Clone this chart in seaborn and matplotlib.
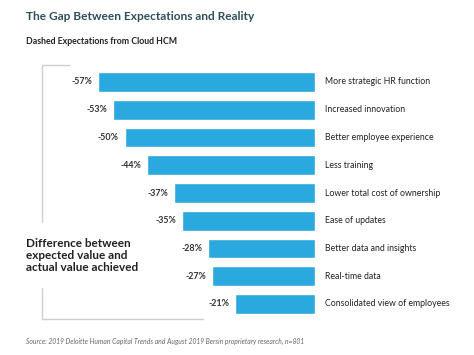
import matplotlib
matplotlib.use('Agg')
import matplotlib.pyplot as plt
from matplotlib.lines import Line2D
import seaborn as sns
import pandas as pd

# Dados
categorias = ['More strategic HR function', 'Increased innovation', 'Better employee experience',
              'Less training', 'Lower total cost of ownership', 'Ease of updates',
              'Better data and insights', 'Real-time data', 'Consolidated view of employees']
valores = [-57, -53, -50, -44, -37, -35, -28, -27, -21]

df = pd.DataFrame({'categoria': categorias, 'valor': valores})

sns.set_style('white')
plt.rcParams['font.family'] = ['Lato', 'DejaVu Sans']

W, H = 474, 355
fig = plt.figure(figsize=(W / 100, H / 100), dpi=100)
ax = fig.add_axes([0, 0, 1, 1])

azul = '#29a9dd'
sns.barplot(data=df, x='valor', y='categoria', orient='h', color=azul,
            width=0.72, saturation=1, ax=ax)

# escala em pixels: 0% em x=315, -57% em x=98
escala = (315 - 98) / 57
ax.set_xlim(-57 - 98 / escala, -57 + (W - 98) / escala)
passo = 27.75
ax.set_ylim((H - 82) / passo, -82 / passo)
ax.axis('off')

for i, v in enumerate(valores):
    ax.text(v - 6 / escala, i, f'-{abs(v)}%', ha='right', va='center',
            fontsize=6.4, fontweight='bold', color='#333333')
    ax.text(10 / escala, i, categorias[i], ha='left', va='center',
            fontsize=6.3, color='#222222')


def px(x, y):
    return x / W, 1 - y / H


# Colchete cinza
cinza = '#cfcfcf'
for (x0, y0), (x1, y1) in [((42, 65), (69, 65)), ((42, 65), (42, 222)),
                           ((42, 288), (42, 319)), ((42, 319), (203, 319))]:
    a, b = px(x0, y0), px(x1, y1)
    fig.add_artist(Line2D([a[0], b[0]], [a[1], b[1]], color=cinza, lw=1,
                          transform=fig.transFigure))

# Textos
fig.text(*px(26, 17), 'The Gap Between Expectations and Reality', fontsize=8.55,
         fontweight='bold', color='#2e4f5a', va='center')
fig.text(*px(26, 41), 'Dashed Expectations from Cloud HCM', fontsize=6.3,
         fontweight='bold', color='#222222', va='center')
fig.text(*px(26, 255.5), 'Difference between\nexpected value and\nactual value achieved',
         fontsize=8.5, fontweight='bold', color='#222222', va='center',
         linespacing=1.15)
fig.text(*px(26, 341.5),
         'Source: 2019 Deloitte Human Capital Trends and August 2019 Bersin proprietary research, n=801',
         fontsize=4.9, fontstyle='italic', color='#666666', va='center')

fig.savefig('out.png', dpi=100)
